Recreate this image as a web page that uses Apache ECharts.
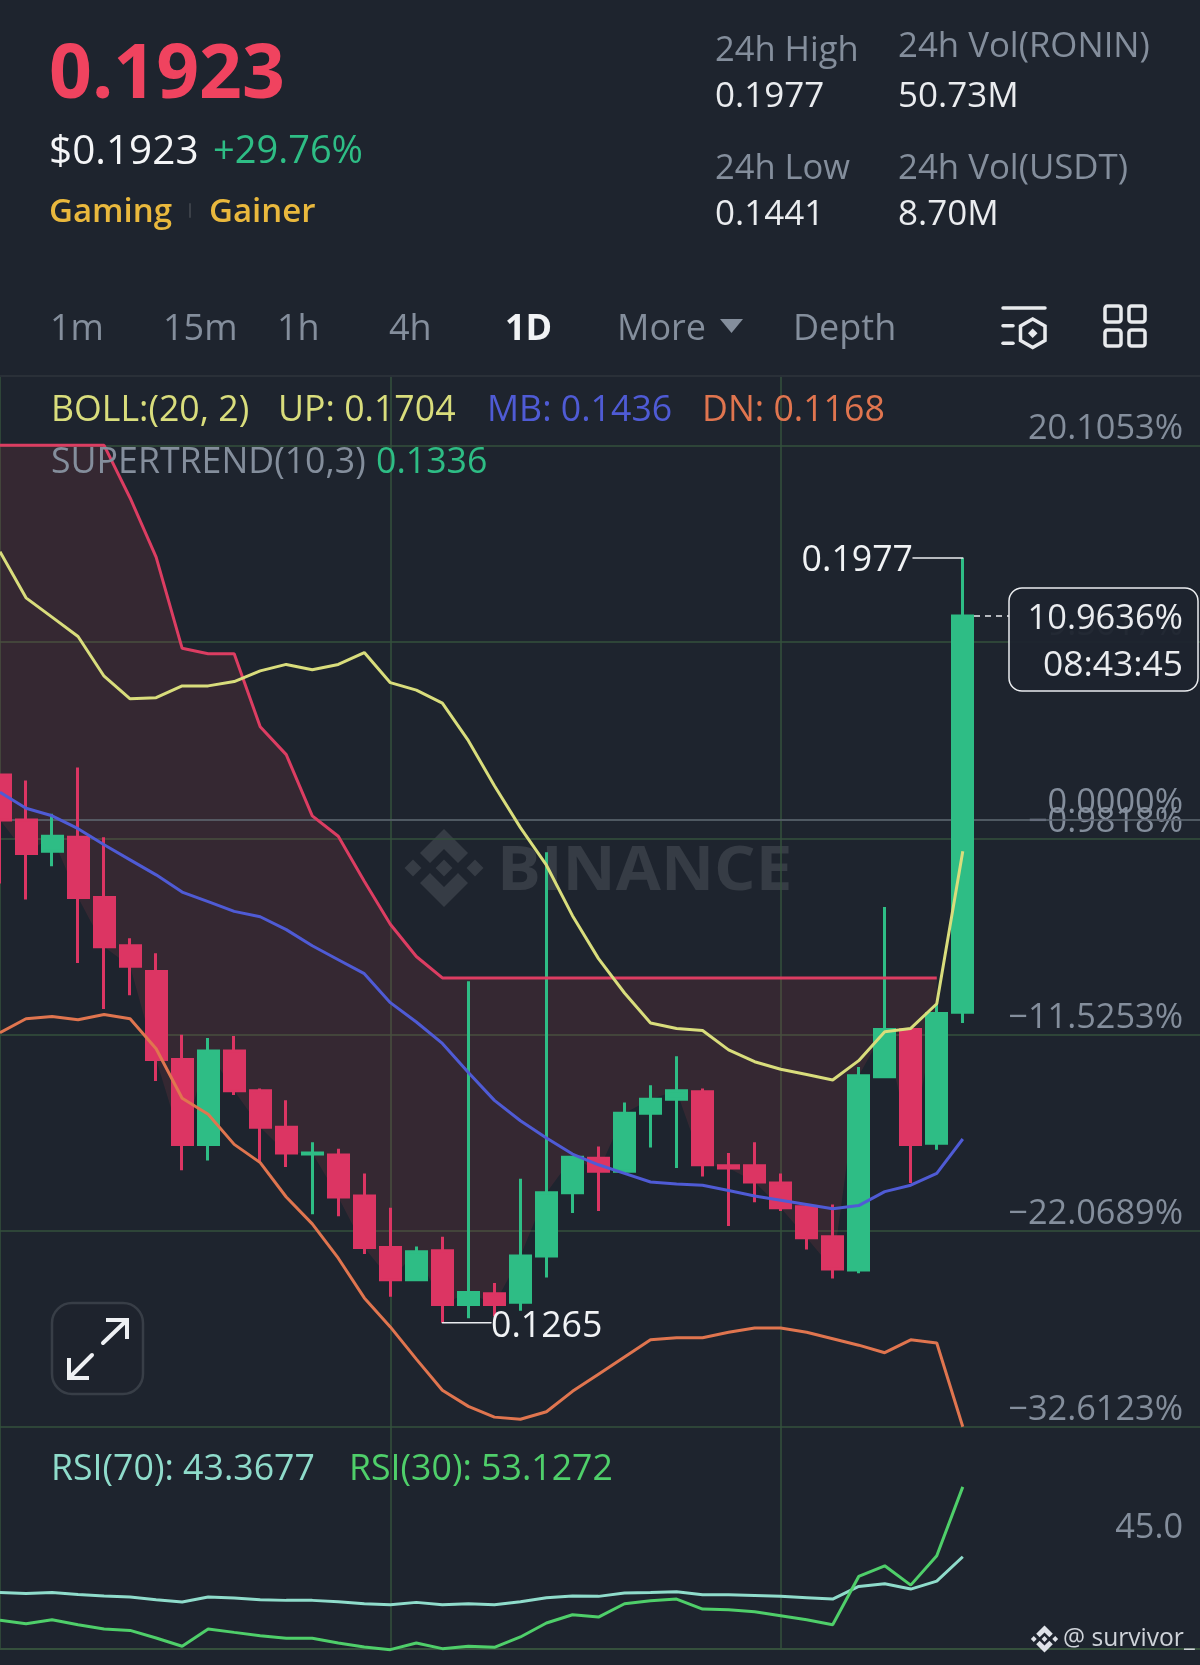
<!DOCTYPE html>
<html>
<head>
<meta charset="utf-8">
<style>html,body{margin:0;padding:0;background:#1e242e;}#c{width:1200px;height:1665px;}</style>
<script src="https://cdn.jsdelivr.net/npm/echarts@6/dist/echarts.min.js"></script>
</head>
<body>
<div id="c"></div>
<script>
const categories = ["d00","d01","d02","d03","d04","d05","d06","d07","d08","d09","d10","d11","d12","d13","d14","d15","d16","d17","d18","d19","d20","d21","d22","d23","d24","d25","d26","d27","d28","d29","d30","d31","d32","d33","d34","d35","d36","d37","d38","d39","d40","d41","d42","d43","d44","d45","d46","d47"];
const opens  = [0.1775,0.1733,0.1704,0.1717,0.1661,0.1616,0.1592,0.1510,0.1431,0.1518,0.1481,0.1447,0.1422,0.1421,0.1383,0.1335,0.1305,0.1332,0.1282,0.1292,0.1284,0.1327,0.1386,0.1418,0.1406,0.1460,0.1473,0.1480,0.1411,0.1411,0.1395,0.1373,0.1345,0.1314,0.1494,0.1538,0.1432,0.1554];
const closes = [0.1733,0.1702,0.1718,0.1661,0.1615,0.1597,0.1510,0.1431,0.1518,0.1481,0.1447,0.1423,0.1423,0.1382,0.1335,0.1305,0.1331,0.1282,0.1293,0.1282,0.1327,0.1386,0.1419,0.1406,0.1460,0.1473,0.1481,0.1412,0.1409,0.1396,0.1372,0.1344,0.1315,0.1495,0.1538,0.1431,0.1553,0.1923];
const lows   = [0.1674,0.1659,0.1690,0.1600,0.1557,0.1570,0.1490,0.1407,0.1416,0.1477,0.1414,0.1410,0.1366,0.1364,0.1329,0.1289,0.1304,0.1265,0.1269,0.1271,0.1276,0.1307,0.1367,0.1369,0.1404,0.1428,0.1409,0.1401,0.1355,0.1377,0.1369,0.1333,0.1306,0.1311,0.1494,0.1395,0.1426,0.1544];
const highs  = [0.1775,0.1770,0.1739,0.1782,0.1717,0.1623,0.1609,0.1533,0.1530,0.1532,0.1483,0.1472,0.1433,0.1427,0.1404,0.1372,0.1336,0.1345,0.1583,0.1302,0.1399,0.1703,0.1420,0.1429,0.1470,0.1486,0.1513,0.1483,0.1423,0.1433,0.1404,0.1375,0.1375,0.1503,0.1652,0.1538,0.1562,0.1977];
const bollUp = [0.1983,0.1940,0.1922,0.1904,0.1867,0.1846,0.1847,0.1858,0.1858,0.1862,0.1872,0.1878,0.1873,0.1878,0.1889,0.1861,0.1854,0.1842,0.1807,0.1765,0.1726,0.1691,0.1644,0.1604,0.1572,0.1544,0.1539,0.1537,0.1519,0.1508,0.1501,0.1496,0.1491,0.1509,0.1536,0.1539,0.1562,0.1704];
const bollMb = [0.1759,0.1744,0.1737,0.1725,0.1710,0.1696,0.1682,0.1666,0.1657,0.1648,0.1643,0.1631,0.1616,0.1603,0.1590,0.1563,0.1545,0.1525,0.1498,0.1472,0.1453,0.1437,0.1422,0.1412,0.1404,0.1396,0.1394,0.1393,0.1388,0.1383,0.1379,0.1375,0.1371,0.1374,0.1387,0.1393,0.1404,0.1436];
const bollDn = [0.1535,0.1548,0.1550,0.1547,0.1552,0.1548,0.1520,0.1474,0.1459,0.1431,0.1414,0.1382,0.1357,0.1325,0.1288,0.1261,0.1231,0.1202,0.1187,0.1177,0.1175,0.1182,0.1201,0.1217,0.1233,0.1249,0.1251,0.1251,0.1256,0.1260,0.1260,0.1256,0.1250,0.1244,0.1237,0.1249,0.1246,0.1168];
const superTrend = [0.2082,0.2082,0.2082,0.2082,0.2082,0.2033,0.1978,0.1893,0.1888,0.1888,0.1820,0.1794,0.1737,0.1718,0.1676,0.1636,0.1606,0.1586,0.1586,0.1586,0.1586,0.1586,0.1586,0.1586,0.1586,0.1586,0.1586,0.1586,0.1586,0.1586,0.1586,0.1586,0.1586,0.1586,0.1586,0.1586,0.1586,null];
const rsi70 = [38.39,38.25,38.39,38.11,37.88,37.74,37.37,37.04,37.74,37.60,37.37,37.28,37.28,37.09,36.81,36.67,37.00,36.67,36.81,36.67,37.09,37.65,37.88,37.84,38.30,38.39,38.49,38.07,38.07,37.97,37.84,37.65,37.46,39.23,39.60,38.86,39.97,43.37];
const rsi30 = [34.49,34.03,34.58,33.88,33.28,33.09,32.03,30.87,33.28,32.81,32.35,31.98,31.98,31.33,30.77,30.40,31.33,30.54,30.87,30.72,32.17,34.12,35.28,34.95,36.81,37.23,37.46,36.07,35.97,35.70,35.14,34.58,33.88,40.62,42.11,39.41,43.50,53.13];
const percentTicks = [-32.6123,-22.0689,-11.5253,-0.9818,0,9.5617,20.1053];
const rsiTicks = [45];
const basePrice = 0.17330;
const priceMin = 0.11678, priceMax = 0.21466;
const rsiMin = 30.49, rsiMax = 61.49;

const FONT = '"Open Sans", "Noto Sans", sans-serif';
const BG = '#1e242e', GRAY = '#848e9c', WHITE = '#eaecef', GREEN = '#2ebd85', RED = '#dc3563',
      GRID = '#35503c', YEL = '#d9dd7c', BLUE = '#4f5bd5', ORG = '#e0754f', TEAL = '#8fdccb', LGREEN = '#4fcf6a';

function T(x, y, text, fill, size, weight, align, extra) {
  return Object.assign({
    type: 'text', z: 50, x, y: y + 2.5,
    style: { x: 0, y: 0, text, fill, fontSize: size, fontWeight: weight || 400, fontFamily: FONT,
      textAlign: align || 'left', textVerticalAlign: 'middle', align: align || 'left', verticalAlign: 'middle' }
  }, extra || {});
}
function L(x1, y1, x2, y2, stroke, w, extra) {
  return Object.assign({ type: 'line', z: 50, shape: { x1, y1, x2, y2 },
    style: { stroke, lineWidth: w, lineCap: 'round' } }, extra || {});
}
function logo(cx, cy, R, fill, z) {
  const u = R / 39, P = pts => ({ type: 'polygon', z, shape: { points: pts.map(p => [cx + p[0] * u, cy + p[1] * u]) }, style: { fill } });
  const dia = (x, y, d) => P([[x, y - d], [x + d, y], [x, y + d], [x - d, y]]);
  return [
    dia(0, 0, 8.5), dia(-31, 0, 8.5), dia(31, 0, 8.5),
    P([[0, -39], [24, -15], [14, -5], [0, -19], [-14, -5], [-24, -15]]),
    P([[0, 39], [24, 15], [14, 5], [0, 19], [-14, 5], [-24, 15]])
  ];
}

const chart = echarts.init(document.getElementById('c'), null, { renderer: 'canvas' });
const candle = opens.map((o, i) => [o, closes[i], lows[i], highs[i]]);
const superDiff = superTrend.map((v, i) => v == null ? null : +(v - closes[i]).toFixed(4));
const closeBase = superTrend.map((v, i) => v == null ? null : closes[i]);
const line = (name, data, color, w, xi) => ({
  name, type: 'line', data, xAxisIndex: xi || 0, yAxisIndex: xi || 0, showSymbol: false, symbol: 'none',
  lineStyle: { color, width: w || 3 }, silent: true, clip: false, animation: false, z: 5
});
const vSplit = i => i % 15 === 0 && i <= 30;

const ups = line('UP', bollUp, YEL, 3);
ups.markLine = { silent: true, symbol: 'none', precision: 5, label: { show: false }, z: 2,
  lineStyle: { color: '#5b6070', width: 1.5, type: 'solid' }, data: [{ yAxis: basePrice }] };

chart.setOption({
  backgroundColor: BG,
  animation: false,
  grid: [
    { left: 0, top: 376, width: 1223, height: 1051, outerBoundsMode: 'none' },
    { left: 0, top: 1427, width: 1223, height: 222, outerBoundsMode: 'none' }
  ],
  xAxis: [0, 1].map(g => ({
    type: 'category', gridIndex: g, data: categories, boundaryGap: false,
    axisLabel: { show: false }, axisTick: { show: false },
    axisLine: { show: g === 1, lineStyle: { color: GRID, width: 2 } },
    splitLine: { show: true, interval: vSplit, lineStyle: { color: GRID, width: 1.5 } }
  })),
  yAxis: [
    {
      type: 'value', gridIndex: 0, position: 'right', min: priceMin, max: priceMax, scale: true,
      axisLine: { show: false },
      axisTick: { show: false, customValues: percentTicks.map(p => basePrice * (1 + p / 100)) },
      axisLabel: {
        inside: true, margin: 40, verticalAlign: 'bottom', lineHeight: 33, color: GRAY, fontSize: 34.3, fontFamily: FONT,
        customValues: percentTicks.map(p => basePrice * (1 + p / 100)),
        formatter: v => (v / basePrice * 100 - 100).toFixed(4).replace('-', '\u2212') + '%'
      },
      splitLine: { show: true, lineStyle: { color: GRID, width: 1.5 } }
    },
    {
      type: 'value', gridIndex: 1, position: 'right', min: rsiMin, max: rsiMax,
      axisLine: { show: false },
      axisTick: { show: false, customValues: rsiTicks },
      axisLabel: {
        inside: true, margin: 40, verticalAlign: 'bottom', lineHeight: 33, color: GRAY, fontSize: 34.3, fontFamily: FONT,
        customValues: rsiTicks, formatter: v => v.toFixed(1)
      },
      splitLine: { show: false }
    }
  ],
  series: [
    { name: 'base', type: 'line', stack: 'st', data: closeBase, showSymbol: false, symbol: 'none', lineStyle: { width: 0, opacity: 0 }, silent: true, z: 1 },
    { name: 'fill', type: 'line', stack: 'st', data: superDiff, showSymbol: false, symbol: 'none', lineStyle: { width: 0, opacity: 0 },
      areaStyle: { color: 'rgba(246,70,93,0.11)', opacity: 1 }, silent: true, z: 1 },
    {
      name: 'kline', type: 'candlestick', data: candle, barWidth: 20.5, z: 3, silent: true,
      itemStyle: { color: GREEN, color0: RED, borderColor: GREEN, borderColor0: RED, borderWidth: 3 }
    },
    line('SUPERTREND', superTrend, '#dc3d62', 3),
    line('MB', bollMb, BLUE, 3),
    line('DN', bollDn, ORG, 3),
    ups,
    line('RSI70', rsi70, TEAL, 3, 1),
    line('RSI30', rsi30, LGREEN, 3, 1)
  ]
});

const hi = chart.convertToPixel({ gridIndex: 0 }, [37, 0.1977]);
const lo = chart.convertToPixel({ gridIndex: 0 }, [17, 0.1265]);
const cur = chart.convertToPixel({ gridIndex: 0 }, [37, 0.1923]);

const elements = [
  // watermark
  ...logo(444, 868, 39, '#363c45', -1),
  T(497, 870, 'BINANCE', '#363c45', 60, 700, 'left', { z: -1, scaleX: 1.09 }),
  // header
  T(49, 74, '0.1923', '#f0435f', 75, 700),
  T(49, 150, '$0.1923', '#f4f5f7', 40.5, 500),
  T(213, 150, '+29.76%', GREEN, 38, 500),
  T(49, 210, 'Gaming', '#e9b83d', 33, 600),
  L(190, 204, 190, 217, '#3b4048', 2),
  T(209, 210, 'Gainer', '#e9b83d', 33, 600),
  T(715, 49, '24h High', GRAY, 34.5),
  T(715, 95, '0.1977', WHITE, 35),
  T(898, 45, '24h Vol(RONIN)', GRAY, 34.8),
  T(898, 95, '50.73M', WHITE, 35),
  T(715, 167, '24h Low', GRAY, 34.5),
  T(715, 213, '0.1441', WHITE, 35),
  T(898, 167, '24h Vol(USDT)', GRAY, 34.8),
  T(898, 213, '8.70M', WHITE, 35),
  // tabs
  T(50, 327, '1m', GRAY, 36),
  T(163, 327, '15m', GRAY, 36),
  T(277, 327, '1h', GRAY, 36),
  T(389, 327, '4h', GRAY, 36),
  T(505, 327, '1D', '#f1f3f5', 36, 700),
  T(617, 327, 'More', GRAY, 36),
  { type: 'polygon', z: 50, shape: { points: [[720, 319], [743, 319], [731.5, 333]] }, style: { fill: GRAY } },
  T(793, 327, 'Depth', GRAY, 36),
  // icons
  L(1003, 308, 1045, 308, '#e8eaed', 3.5),
  L(1003, 325.7, 1013, 325.7, '#e8eaed', 3.5),
  L(1003, 343.3, 1013, 343.3, '#e8eaed', 3.5),
  { type: 'polygon', z: 50, shape: { points: [[1032.7, 319], [1045, 326], [1045, 340.5], [1032.7, 347.5], [1020.5, 340.5], [1020.5, 326]] },
    style: { fill: 'none', stroke: '#e8eaed', lineWidth: 3.5 } },
  { type: 'polygon', z: 50, shape: { points: [[1032.7, 328.5], [1037.5, 333.3], [1032.7, 338], [1028, 333.3]] }, style: { fill: '#e8eaed' } },
  ...[[1105, 306], [1129, 306], [1105, 330], [1129, 330]].map(p => ({
    type: 'rect', z: 50, shape: { x: p[0], y: p[1], width: 16, height: 16, r: 2.5 },
    style: { fill: 'none', stroke: '#e8eaed', lineWidth: 3.5 } })),
  L(0, 376, 1200, 376, '#2a3038', 2),
  // legend
  T(51, 408, 'BOLL:(20, 2)', YEL, 35.7),
  T(278, 408, 'UP: 0.1704', YEL, 35.7),
  T(487, 408, 'MB: 0.1436', BLUE, 35.7),
  T(702, 408, 'DN: 0.1168', ORG, 35.7),
  T(51, 460, 'SUPERTREND(10,3)', GRAY, 35.7),
  T(376, 460, '0.1336', GREEN, 35.7),
  T(51, 1467, 'RSI(70): 43.3677', TEAL, 35.7),
  T(349, 1467, 'RSI(30): 53.1272', LGREEN, 35.7),
  // hi / lo labels
  L(913, hi[1], hi[0], hi[1], '#eaecef', 1.5),
  T(913, hi[1], '0.1977', '#f1f3f5', 35.7, 400, 'right'),
  L(lo[0], lo[1], 491, lo[1], '#eaecef', 1.5),
  T(491, lo[1] + 2, '0.1265', '#f1f3f5', 35.7, 400, 'left'),
  // current price
  { type: 'line', z: 50, shape: { x1: 974, y1: cur[1], x2: 1009, y2: cur[1] },
    style: { stroke: '#eaecef', lineWidth: 1.5, lineDash: [6, 5] } },
  { type: 'rect', z: 50, shape: { x: 1009, y: 588, width: 189, height: 103, r: 13 },
    style: { fill: 'rgba(30,36,46,0.95)', stroke: '#eaecef', lineWidth: 1.5 } },
  T(1183, 617, '10.9636%', WHITE, 34.4, 400, 'right', { z: 51 }),
  T(1183, 663, '08:43:45', WHITE, 35.4, 400, 'right', { z: 51 }),
  // expand button
  { type: 'rect', z: 50, shape: { x: 52, y: 1303, width: 91, height: 91, r: 20 },
    style: { fill: 'rgba(30,36,46,0.4)', stroke: '#383e47', lineWidth: 2.5 } },
  { type: 'polyline', z: 51, shape: { points: [[106, 1320], [127, 1320], [127, 1339]] }, style: { fill: 'none', stroke: '#eef0f3', lineWidth: 4 } },
  L(103, 1343, 126, 1321, '#eef0f3', 4, { z: 51 }),
  { type: 'polyline', z: 51, shape: { points: [[69, 1358], [69, 1378], [89, 1378]] }, style: { fill: 'none', stroke: '#eef0f3', lineWidth: 4 } },
  L(70, 1377, 92, 1355, '#eef0f3', 4, { z: 51 }),
  // author mark
  ...logo(1044.5, 1639, 13.5, '#dfe2e8', 50),
  T(1063, 1636, '@ survivor_', '#cfd3d9', 24.6, 400)
];
chart.setOption({ graphic: { elements } });
</script>
</body>
</html>
